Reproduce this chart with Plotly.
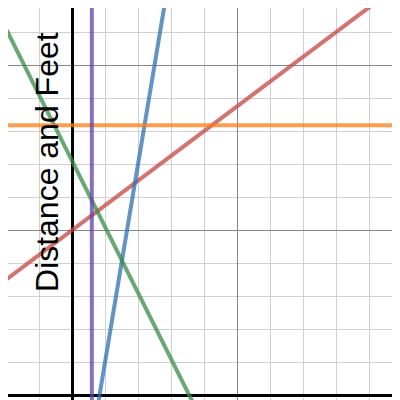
import plotly.graph_objects as go

# Lines y = m*x + b
names = ["red", "blue", "green"]
slopes = [0.75, 6.0, -2.0]
intercepts = [5.0, -5.0, 7.1]
colors_lines = ["#c74440", "#2d70b3", "#388c46"]
horiz_y = 8.18
vert_x = 0.6
x_range = [-1.94, 10.18]
y_range = [-0.39, 11.73]

fig = go.Figure()
for n, m, b, c in zip(names, slopes, intercepts, colors_lines):
    xs = [-5, 15]
    fig.add_trace(go.Scatter(x=xs, y=[m * x + b for x in xs], mode="lines",
                             line=dict(color=c, width=4), opacity=0.75, name=n))
fig.add_trace(go.Scatter(x=[-5, 15], y=[horiz_y, horiz_y], mode="lines",
                         line=dict(color="#fa7e19", width=4), opacity=0.75))
fig.add_trace(go.Scatter(x=[vert_x, vert_x], y=[-5, 20], mode="lines",
                         line=dict(color="#6042a6", width=4), opacity=0.75))

axis_common = dict(showticklabels=False, dtick=5, gridcolor="#888", gridwidth=1,
                   minor=dict(dtick=1, gridcolor="#d0d0d0", gridwidth=1, showgrid=True),
                   zeroline=True, zerolinecolor="black", zerolinewidth=2.5,
                   showline=False, ticks="")
fig.update_xaxes(range=x_range, **axis_common)
fig.update_yaxes(range=y_range, **axis_common)
fig.add_annotation(x=-0.76, y=7.06, xref="x", yref="y", text="Distance and Feet",
                   textangle=-90, showarrow=False,
                   font=dict(family="Liberation Sans, Arial", size=32, color="black"))
fig.update_layout(width=400, height=400, margin=dict(l=0, r=0, t=0, b=0),
                  plot_bgcolor="white", paper_bgcolor="white", showlegend=False)
fig.write_html("out.html")
